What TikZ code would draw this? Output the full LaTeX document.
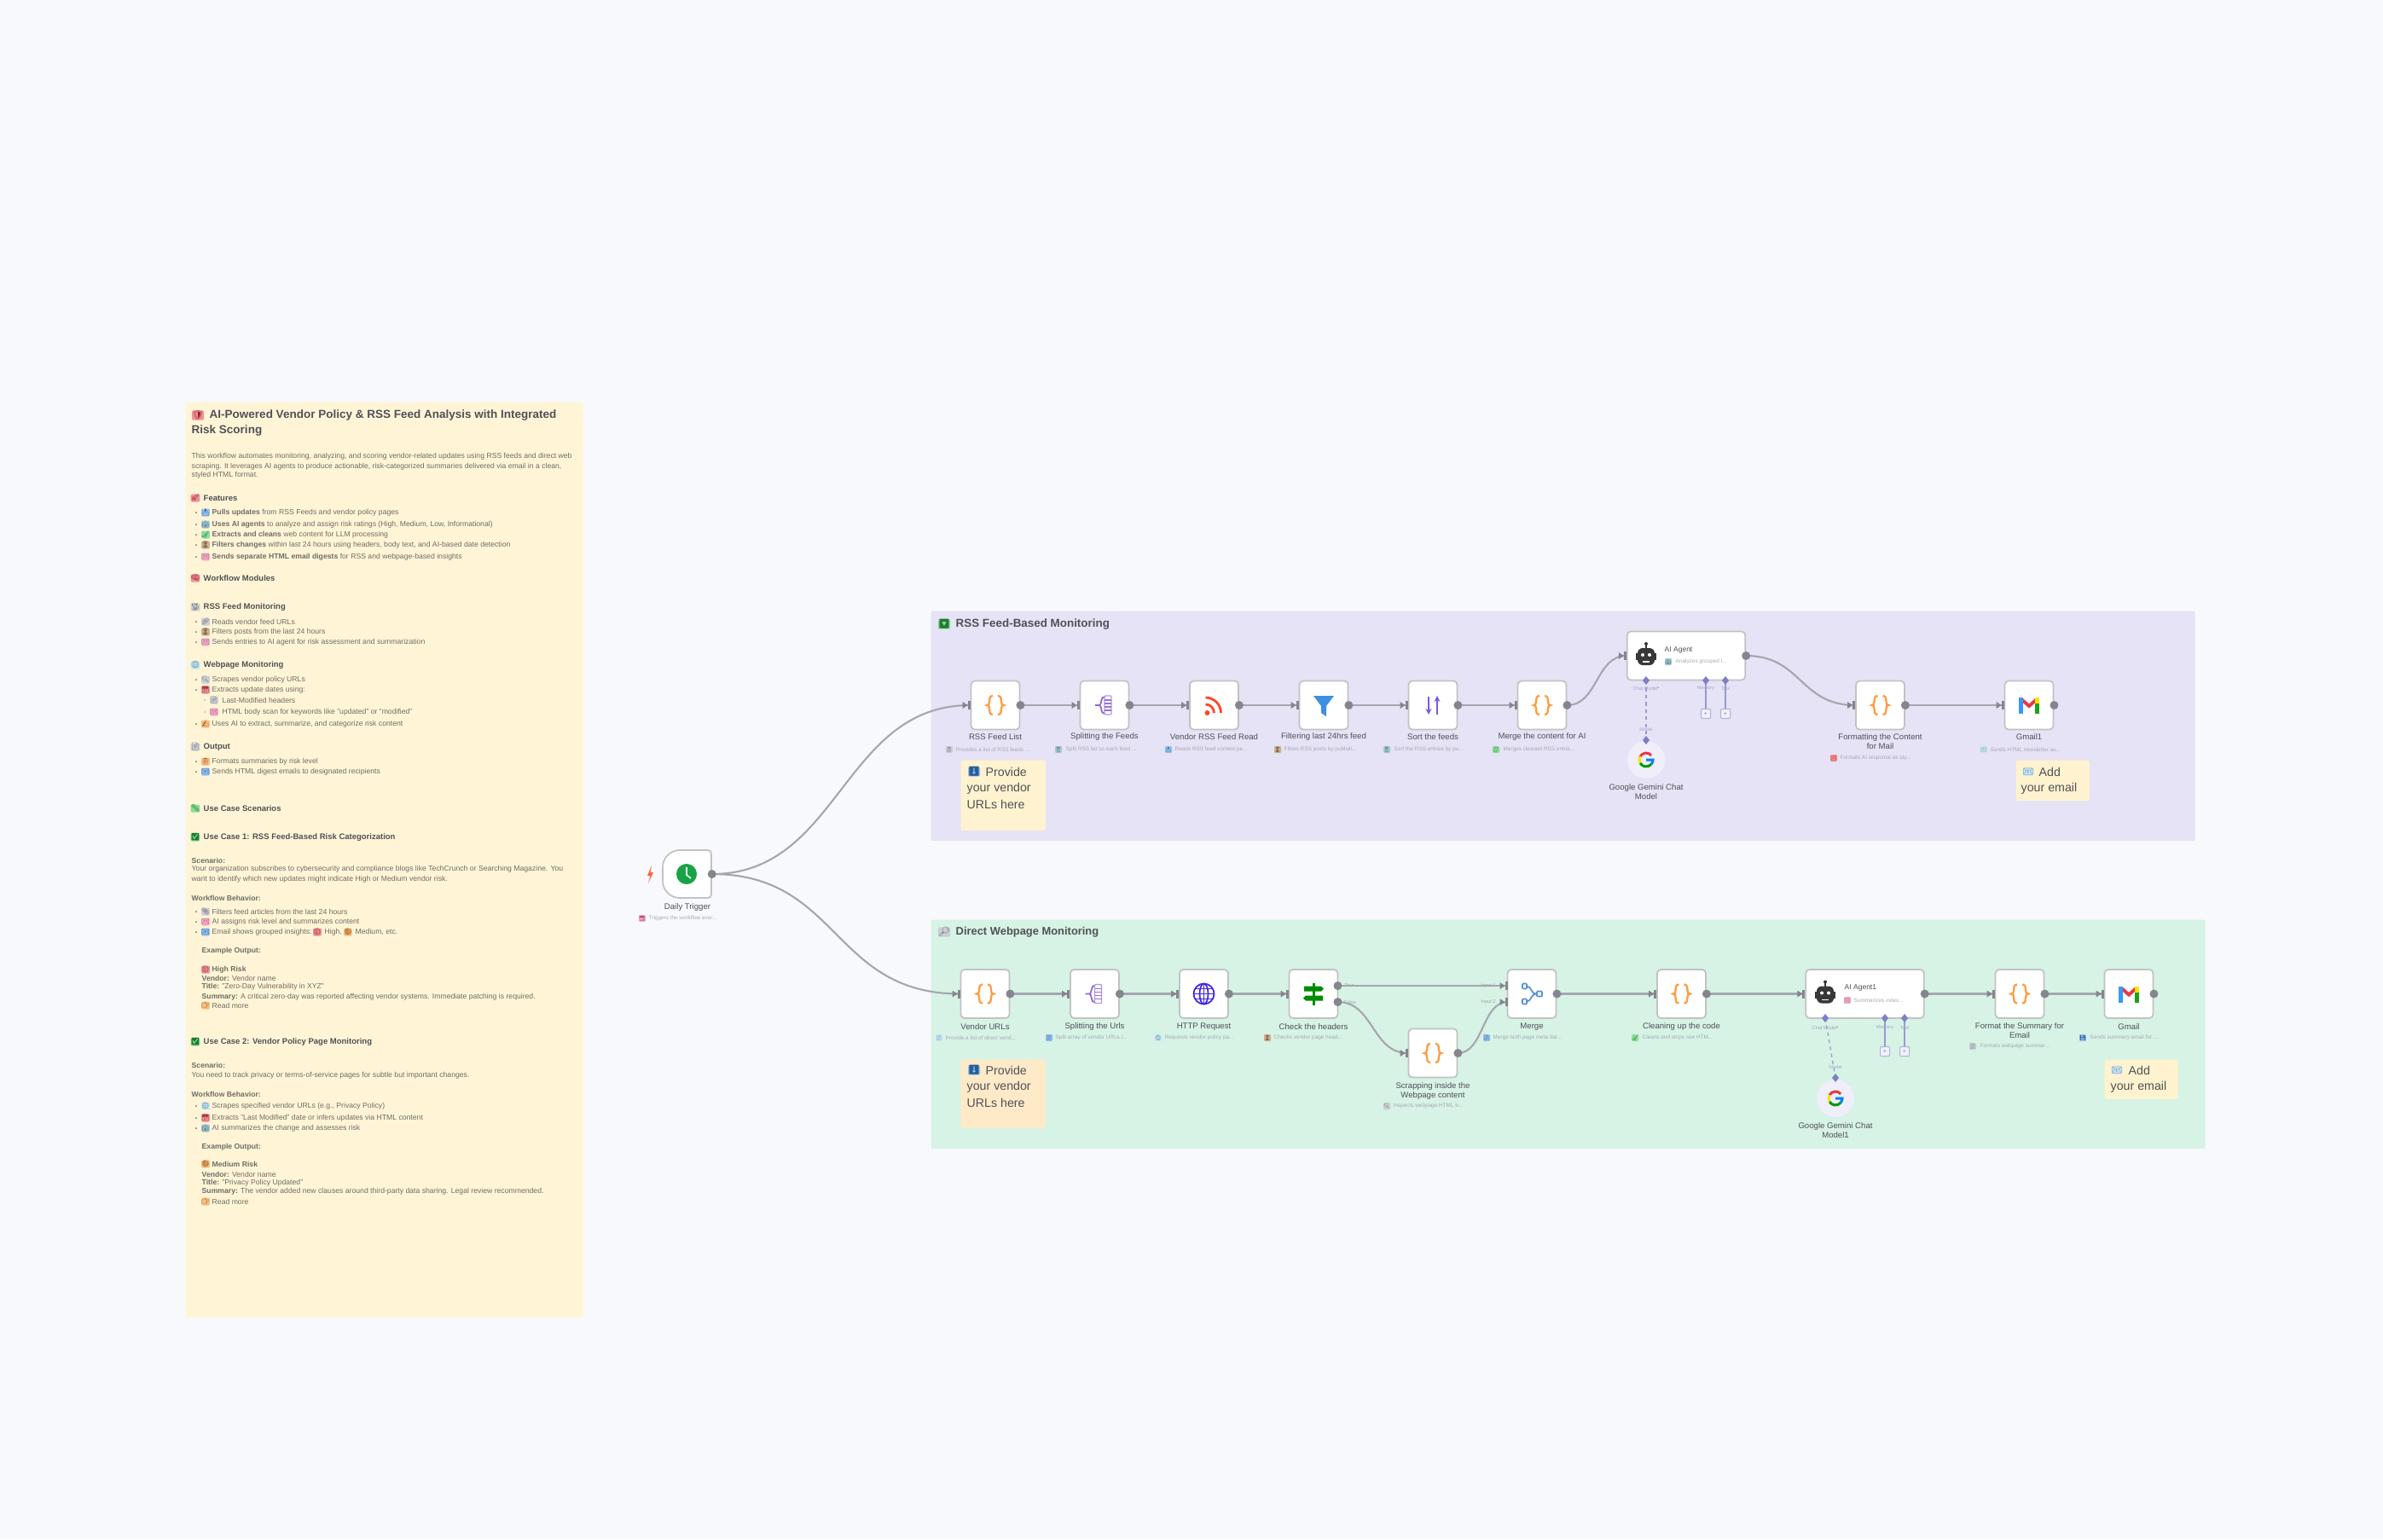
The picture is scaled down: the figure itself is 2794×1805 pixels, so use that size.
\documentclass[tikz,border=0pt]{standalone}
\usepackage{fontspec}
\usetikzlibrary{arrows.meta,shapes.geometric,calc}
\setmainfont{Liberation Sans}
\newfontfamily\emojifont{Noto Emoji}
\definecolor{bgc}{HTML}{F8F9FC}
\definecolor{sidec}{HTML}{FFF5D6}
\definecolor{gonec}{HTML}{E5E3F5}
\definecolor{gtwoc}{HTML}{D6F3E5}
\definecolor{notec}{HTML}{FFF3CF}
\definecolor{edgec}{HTML}{A6A6B0}
\definecolor{handc}{HTML}{85858E}
\definecolor{portc}{HTML}{7F7FC6}
\definecolor{dtxt}{HTML}{505058}
\definecolor{btxt}{HTML}{6E6C66}
\definecolor{stxt}{HTML}{A9A9B6}
\definecolor{codec}{HTML}{FF9C40}
\definecolor{eBlue}{HTML}{3F8FE0}
\definecolor{eRed}{HTML}{E53945}
\definecolor{eOrange}{HTML}{F08A1D}
\definecolor{eGreen}{HTML}{2FBF4A}
\definecolor{ePink}{HTML}{EE6FA0}
\definecolor{eGray}{HTML}{A0A6B0}
\definecolor{eBrown}{HTML}{A0703A}
\definecolor{eSky}{HTML}{9AD3EE}
\definecolor{eTeal}{HTML}{5E9AB0}
\newcommand\pxf[2]{\fontsize{\fpeval{#1*0.2845}}{\fpeval{#2*0.2845}}\selectfont}
\newcount\nid
\newcommand\nnew{\global\advance\nid by 1 }
\tikzset{
  x=0.01cm,y=-0.01cm,
  wbox/.style={draw=#1,line width=.5pt,fill=white,rounded corners=.45mm,minimum width=.57cm,minimum height=.57cm,inner sep=0pt},
  wbox/.default={black!24},
  agentbox/.style={wbox,minimum width=1.385cm},
  plusbox/.style={draw=portc!60,line width=.3pt,rounded corners=.1mm,minimum width=.11cm,minimum height=.11cm,inner sep=0pt,fill=gonec!50!white,text=portc,font=\pxf{7}{7}},
  note/.style={fill=notec,rounded corners=.2mm,inner sep=0pt,anchor=north west},
  conn/.style={draw=edgec,line width=.6pt},
  sublink/.style={draw=portc!80,line width=.35pt},
  subdash/.style={sublink,dash pattern=on 1.2pt off 1.2pt},
  wlabel/.style={text=dtxt,font=\pxf{9.6}{11},align=center,inner sep=0pt},
  wsub/.style={text=stxt,font=\pxf{6.4}{8},inner sep=0pt,anchor=west},
  tiny/.style={text=portc!70,font=\pxf{5.6}{7},inner sep=0pt},
  emobox/.style={rounded corners=.12mm,inner sep=0pt,fill=#1!55,text=#1!65!black,minimum size=.09cm},
  side/.style={text=btxt,font=\pxf{8.65}{10},inner sep=0pt,anchor=west},
  sidehd/.style={text=dtxt,font=\bfseries\pxf{9.5}{11},inner sep=0pt,anchor=west},
  notetxt/.style={text=dtxt,font=\pxf{14.2}{19},inner sep=0pt,anchor=west},
  codeicon/.pic={
    \draw[codec,line width=.65pt] (-3,-11) .. controls (-7,-11) and (-7,-7) .. (-7,-4) .. controls (-7,-1) and (-8,0) .. (-10,0) .. controls (-8,0) and (-7,1) .. (-7,4) .. controls (-7,7) and (-7,11) .. (-3,11);
    \draw[codec,line width=.65pt] (3,-11) .. controls (7,-11) and (7,-7) .. (7,-4) .. controls (7,-1) and (8,0) .. (10,0) .. controls (8,0) and (7,1) .. (7,4) .. controls (7,7) and (7,11) .. (3,11);
  },
  spliticon/.pic={
    \draw[violet!55!blue!60,line width=.5pt] (-11,0)--(-6,0) (0,-10) .. controls (-5,-10) and (-3,0) .. (-6,0) .. controls (-3,0) and (-5,10) .. (0,10);
    \draw[violet!45!blue!40,line width=.4pt,rounded corners=.1mm] (0,-11) rectangle (8,11);
    \draw[violet!55!blue!55,line width=.45pt] (0,-6)--(8,-6) (0,-2)--(8,-2) (0,2)--(8,2) (0,6)--(8,6);
  },
  rssicon/.pic={
    \fill[red!70!orange!85] (-8,9) circle (3);
    \draw[red!70!orange!85,line width=.8pt] (-10,-1) arc (270:360:10);
    \draw[red!70!orange!85,line width=.8pt] (-10,-9) arc (270:360:18);
  },
  filtericon/.pic={
    \fill[eBlue] (-12,-11)--(12,-11)--(3,1)--(3,13)--(-3,9)--(-3,1)--cycle;
  },
  sorticon/.pic={
    \draw[-{Stealth[length=.07cm,width=.07cm]},blue!55!violet!65,line width=.55pt] (-5,-10)--(-5,11);
    \draw[-{Stealth[length=.07cm,width=.07cm]},blue!55!violet!65,line width=.55pt] (5,11)--(5,-11);
  },
  globeicon/.pic={
    \draw[blue!75!violet!85,line width=.5pt] (0,0) circle (12);
    \draw[blue!75!violet!85,line width=.5pt] (0,0) ellipse (5 and 12);
    \draw[blue!75!violet!85,line width=.5pt] (-12,0)--(12,0) (-10.5,-6)--(10.5,-6) (-10.5,6)--(10.5,6) (0,-12)--(0,12);
  },
  switchicon/.pic={
    \fill[green!55!black] (-1.5,-13) rectangle (1.5,13);
    \fill[green!55!black] (-11,-9)--(9,-9)--(12,-6)--(9,-3)--(-11,-3)--cycle;
    \fill[green!55!black] (11,2)--(-9,2)--(-12,5)--(-9,8)--(11,8)--cycle;
  },
  mergeicon/.pic={
    \draw[cyan!55!blue!70,line width=.5pt,rounded corners=.1mm] (-11,-12) rectangle (-6,-6) (-11,6) rectangle (-6,12) (6,-3) rectangle (12,3);
    \draw[cyan!55!blue!70,line width=.5pt] (-6,-9) .. controls (0,-9) and (-2,0) .. (6,0) (-6,9) .. controls (0,9) and (-2,0) .. (6,0);
  },
  roboticon/.pic={
    \fill[black!78] (-1,-14) rectangle (1,-9);
    \fill[black!78] (0,-14) circle (2);
    \fill[black!78,rounded corners=.06cm] (-10,-9) rectangle (10,11);
    \fill[black!78] (-12,-3) rectangle (12,5);
    \fill[white] (-4,-1) circle (2) (4,-1) circle (2);
    \fill[white] (-4,6) rectangle (4,7.5);
  },
  gmailicon/.pic={
    \draw[eRed,line width=1.1pt] (-9,-7)--(0,1)--(9,-7);
    \fill[blue!50!cyan!80] (-12,-9) rectangle (-7,10);
    \fill[green!60!black!90] (7,-2) rectangle (12,10);
    \fill[yellow!85!orange] (7,-9) rectangle (12,-2);
  },
  gemini/.pic={
    \draw[eRed,line width=.85pt] (205:8) arc (205:320:8);
    \draw[yellow!85!orange,line width=.85pt] (150:8) arc (150:210:8);
    \draw[green!60!black,line width=.85pt] (40:8) arc (40:150:8);
    \draw[blue!50!cyan,line width=.85pt] (0,0)--(8,0) arc (0:40:8);
  },
}
\newcommand\inh[1]{\fill[handc] ($(#1)+(-3,-5)$) rectangle ($(#1)+(0,5)$); \fill[handc] ($(#1)+(-9,-4)$)--($(#1)+(-3,0)$)--($(#1)+(-9,4)$)--cycle;}
\newcommand\outh[1]{\fill[handc] (#1) circle (5);}
\newcommand\diam[1]{\fill[portc] ($(#1)+(0,-5)$)--($(#1)+(4,0)$)--($(#1)+(0,5)$)--($(#1)+(-4,0)$)--cycle;}
\newcommand\wnode[4][]{\node[wbox,#1] (#2) at (#3,#4) {};}
\newcommand\lbl[3]{\nnew\node[wlabel] (l\the\nid) at (#1,#2) {#3};}
\newcommand\sublbl[4]{\nnew\node[emobox=#3,minimum size=.08cm,font=\emojifont\pxf{6}{7}] (e\the\nid) at (#1,#2) {#4};}
\newcommand\subt[3]{\nnew\node[wsub] (s\the\nid) at (#1,#2) {#3};}
\newcommand\emo[5][7.5]{\nnew\node[emobox=#4,font=\emojifont\pxf{#1}{#1}] (e\the\nid) at (#2,#3) {#5};}
\newcommand\head[4]{\emo[8.5]{229}{#1}{#2}{#3}\nnew\node[sidehd] (h\the\nid) at (238,#1) {#4};}
\newcommand\bul[4]{\fill[btxt] (230,#1) circle (1);\emo{241}{#1}{#2}{#3}\nnew\node[side] (b\the\nid) at (248,#1) {#4};}
\newcommand\sbul[4]{\fill[btxt!60] (240,#1) circle (.8);\emo{251}{#1}{#2}{#3}\nnew\node[side] (b\the\nid) at (260,#1) {#4};}
\newcommand\plain[3]{\nnew\node[side] (p\the\nid) at (#1,#2) {#3};}
\begin{document}
\begin{tikzpicture}
\path[use as bounding box,fill=bgc] (0,0) rectangle (2794,1805);
% ---------- sidebar ----------
\node[fill=sidec,rounded corners=.1mm,minimum width=4.66cm,minimum height=10.73cm,inner sep=0pt,anchor=north west] (sidebar) at (217,471) {};
\emo[11]{232}{487}{eRed}{🛡}
\node[text=dtxt,font=\bfseries\pxf{13.5}{18},inner sep=0pt,anchor=west] (title1) at (245,487) {AI-Powered Vendor Policy \& RSS Feed Analysis with Integrated};
\node[text=dtxt,font=\bfseries\pxf{13.5}{18},inner sep=0pt,anchor=west] (title2) at (224,505) {Risk Scoring};
\plain{224}{535}{This workflow automates monitoring, analyzing, and scoring vendor-related updates using RSS feeds and direct web}
\plain{224}{547}{scraping. It leverages AI agents to produce actionable, risk-categorized summaries delivered via email in a clean,}
\plain{224}{557}{styled HTML format.}
\head{584}{eRed}{🚀}{Features}
\bul{601}{eBlue}{📥}{\textbf{Pulls updates} from RSS Feeds and vendor policy pages}
\bul{615}{eTeal}{🤖}{\textbf{Uses AI agents} to analyze and assign risk ratings (High, Medium, Low, Informational)}
\bul{627}{eGreen}{🧹}{\textbf{Extracts and cleans} web content for LLM processing}
\bul{639}{eBrown}{⏳}{\textbf{Filters changes} within last 24 hours using headers, body text, and AI-based date detection}
\bul{653}{ePink}{💌}{\textbf{Sends separate HTML email digests} for RSS and webpage-based insights}
\head{678}{eRed}{🧠}{Workflow Modules}
\head{712}{eGray}{📡}{RSS Feed Monitoring}
\bul{729}{eGray}{🔗}{Reads vendor feed URLs}
\bul{741}{eBrown}{⏳}{Filters posts from the last 24 hours}
\bul{753}{ePink}{💌}{Sends entries to AI agent for risk assessment and summarization}
\head{780}{eSky}{🌐}{Webpage Monitoring}
\bul{797}{eGray}{🔍}{Scrapes vendor policy URLs}
\bul{809}{eRed}{📅}{Extracts update dates using:}
\sbul{821}{eGray}{📄}{Last-Modified headers}
\sbul{835}{ePink}{💌}{HTML body scan for keywords like "updated" or "modified"}
\bul{849}{eOrange}{✍}{Uses AI to extract, summarize, and categorize risk content}
\head{876}{eGray}{📄}{Output}
\bul{893}{eOrange}{📋}{Formats summaries by risk level}
\bul{905}{eBlue}{📧}{Sends HTML digest emails to designated recipients}
\head{948}{eGreen}{✏}{Use Case Scenarios}
\head{982}{eGreen}{✅}{Use Case 1: RSS Feed-Based Risk Categorization}
\plain{224}{1009}{\textbf{Scenario:}}
\plain{224}{1019}{Your organization subscribes to cybersecurity and compliance blogs like TechCrunch or Searching Magazine. You}
\plain{224}{1031}{want to identify which new updates might indicate High or Medium vendor risk.}
\plain{224}{1053}{\textbf{Workflow Behavior:}}
\bul{1069}{eGray}{📎}{Filters feed articles from the last 24 hours}
\bul{1081}{ePink}{💌}{AI assigns risk level and summarizes content}
\bul{1093}{eBlue}{📧}{Email shows grouped insights:}
\emo{372}{1093}{eRed}{🔴}
\plain{380}{1093}{High,}
\emo{408}{1093}{eOrange}{🟠}
\plain{416}{1093}{Medium, etc.}
\plain{236}{1115}{\textbf{Example Output:}}
\emo{241}{1137}{eRed}{🔴}
\plain{248}{1137}{\textbf{High Risk}}
\plain{236}{1147}{\textbf{Vendor:} Vendor name}
\plain{236}{1157}{\textbf{Title:} "Zero-Day Vulnerability in XYZ"}
\plain{236}{1169}{\textbf{Summary:} A critical zero-day was reported affecting vendor systems. Immediate patching is required.}
\emo{241}{1179}{eOrange}{👉}
\plain{248}{1179}{Read more}
\head{1222}{eGreen}{✅}{Use Case 2: Vendor Policy Page Monitoring}
\plain{224}{1249}{\textbf{Scenario:}}
\plain{224}{1261}{You need to track privacy or terms-of-service pages for subtle but important changes.}
\plain{224}{1283}{\textbf{Workflow Behavior:}}
\bul{1297}{eSky}{🌐}{Scrapes specified vendor URLs (e.g., Privacy Policy)}
\bul{1311}{eRed}{📅}{Extracts "Last Modified" date or infers updates via HTML content}
\bul{1323}{eTeal}{🤖}{AI summarizes the change and assesses risk}
\plain{236}{1345}{\textbf{Example Output:}}
\emo{241}{1365}{eOrange}{🟠}
\plain{248}{1365}{\textbf{Medium Risk}}
\plain{236}{1377}{\textbf{Vendor:} Vendor name}
\plain{236}{1387}{\textbf{Title:} "Privacy Policy Updated"}
\plain{236}{1397}{\textbf{Summary:} The vendor added new clauses around third-party data sharing. Legal review recommended.}
\emo{241}{1409}{eOrange}{👉}
\plain{248}{1409}{Read more}
% ---------- groups ----------
\node[fill=gonec,rounded corners=.1mm,minimum width=14.81cm,minimum height=2.69cm,inner sep=0pt,anchor=north west] (groupone) at (1091,716) {};
\node[fill=gtwoc,rounded corners=.1mm,minimum width=14.93cm,minimum height=2.68cm,inner sep=0pt,anchor=north west] (grouptwo) at (1091,1078) {};
\emo[11]{1107}{732}{eGreen}{🔽}
\node[text=dtxt,font=\bfseries\pxf{13.4}{14},inner sep=0pt,anchor=west] (gonet) at (1120,732) {RSS Feed-Based Monitoring};
\emo[11]{1107}{1093}{eGray}{🔎}
\node[text=dtxt,font=\bfseries\pxf{12.9}{14},inner sep=0pt,anchor=west] (gtwot) at (1120,1093) {Direct Webpage Monitoring};
% ---------- notes ----------
\node[note,minimum width=.99cm,minimum height=.82cm] (noteA) at (1126,891) {};
\node[note,minimum width=.86cm,minimum height=.47cm] (noteB) at (2363,891) {};
\node[note,fill=notec!85!orange!70,minimum width=.99cm,minimum height=.80cm] (noteC) at (1126,1242) {};
\node[note,minimum width=.86cm,minimum height=.46cm] (noteD) at (2467,1242) {};
\emo[11]{1142}{905}{eBlue}{⬇}\node[notetxt] (na1) at (1155,905) {Provide};
\node[notetxt] (na2) at (1133,925) {your vendor};
\node[notetxt] (na3) at (1133,943) {URLs here};
\emo[10]{2378}{905}{eSky}{📧}\node[notetxt] (nb1) at (2390,905) {Add};
\node[notetxt] (nb2) at (2369,925) {your email};
\emo[11]{1142}{1255}{eBlue}{⬇}\node[notetxt] (nc1) at (1155,1255) {Provide};
\node[notetxt] (nc2) at (1133,1275) {your vendor};
\node[notetxt] (nc3) at (1133,1293) {URLs here};
\emo[10]{2482}{1255}{eSky}{📧}\node[notetxt] (nd1) at (2495,1255) {Add};
\node[notetxt] (nd2) at (2474,1275) {your email};
% ---------- trigger ----------
\node[minimum width=.57cm,minimum height=.56cm,inner sep=0pt] (trigger) at (805.5,1025) {};
\filldraw[fill=white,draw=black!24,line width=.5pt] (797,997) -- (830,997) arc (270:360:4) -- (834,1049) arc (0:90:4) -- (797,1053) arc (90:180:20) -- (777,1017) arc (180:270:20) -- cycle;
\fill[green!50!teal!80!black!90] (805,1025) circle (12);
\draw[white,line width=.45pt] (805,1017) -- (805,1026) -- (810,1030);
\fill[red!65!orange!75] (764,1015)--(759,1027)--(762.5,1027)--(760,1036)--(766,1023)--(762.5,1023)--cycle;
\lbl{806}{1064}{Daily Trigger}
\sublbl{753}{1077}{ePink}{📆}
\subt{760}{1077}{Triggers the workflow ever...}
% ---------- group one nodes ----------
\wnode{rsslist}{1167}{827}
\wnode{splitfeeds}{1295}{827}
\wnode{rssread}{1423.5}{827}
\wnode{filterfeed}{1552}{827}
\wnode{sortfeeds}{1680}{827}
\wnode{mergeai}{1808}{827}
\node[agentbox] (agent) at (1977,769) {};
\wnode{fmtmail}{2204.5}{827}
\wnode{gmailone}{2379}{827}
\node[circle,fill=gonec!60!white,minimum size=.44cm,inner sep=0pt] (gem) at (1930,891) {};
\node[plusbox] (plusA) at (2000,837) {+};
\node[plusbox] (plusB) at (2023,837) {+};
\coordinate (pchat) at (1930,798);\coordinate (pmem) at (2000,798);\coordinate (ptool) at (2023,798);\coordinate (pgem) at (1930,868);
\path (rsslist) pic {codeicon} (splitfeeds) pic {spliticon} (rssread) pic {rssicon} (filterfeed) pic {filtericon} (sortfeeds) pic {sorticon} (mergeai) pic {codeicon} (fmtmail) pic {codeicon} (gmailone) pic {gmailicon} (gem) pic {gemini};
\path (1930,769) pic {roboticon};
% ---------- group two nodes ----------
\wnode{vurls}{1155}{1165.5}
\wnode{spliturls}{1283.5}{1165.5}
\wnode{http}{1411.5}{1165.5}
\wnode{check}{1540}{1165.5}
\wnode{merge}{1796}{1165.5}
\wnode{scrape}{1680}{1235}
\wnode{clean}{1971.5}{1165.5}
\node[agentbox] (agentt) at (2186.5,1165.5) {};
\wnode{fmtsum}{2368}{1165.5}
\wnode{gmailt}{2496}{1165.5}
\node[circle,fill=gonec!60!white,minimum size=.44cm,inner sep=0pt] (gemt) at (2152,1288) {};
\node[plusbox] (plusC) at (2210,1233) {+};
\node[plusbox] (plusD) at (2233,1233) {+};
\coordinate (qchat) at (2140,1194);\coordinate (qmem) at (2210,1194);\coordinate (qtool) at (2233,1194);\coordinate (qgem) at (2152,1264);
\coordinate (swtrue) at (1568.5,1156);\coordinate (swfalse) at (1568.5,1175);
\coordinate (mgone) at (1767.5,1156);\coordinate (mgtwo) at (1767.5,1175);
\path (vurls) pic {codeicon} (spliturls) pic {spliticon} (http) pic {globeicon} (check) pic {switchicon} (merge) pic {mergeicon} (scrape) pic {codeicon} (clean) pic {codeicon} (fmtsum) pic {codeicon} (gmailt) pic {gmailicon} (gemt) pic {gemini};
\path (2140,1165.5) pic {roboticon};
% ---------- connectors ----------
\draw[conn] (trigger.east) .. controls +(150,0) and +(-150,0) .. (rsslist.west);
\draw[conn] (trigger.east) .. controls +(150,0) and +(-150,0) .. (vurls.west);
\draw[conn] (rsslist.east) -- (splitfeeds.west);
\draw[conn] (splitfeeds.east) -- (rssread.west);
\draw[conn] (rssread.east) -- (filterfeed.west);
\draw[conn] (filterfeed.east) -- (sortfeeds.west);
\draw[conn] (sortfeeds.east) -- (mergeai.west);
\draw[conn] (mergeai.east) .. controls +(36,0) and +(-36,0) .. (agent.west);
\draw[conn] (agent.east) .. controls +(65,0) and +(-65,0) .. (fmtmail.west);
\draw[conn] (fmtmail.east) -- (gmailone.west);
\draw[subdash] (pchat) -- (pgem);
\draw[sublink] (pmem) -- (plusA.north);
\draw[sublink] (ptool) -- (plusB.north);
\draw[conn] (vurls.east) -- (spliturls.west);
\draw[conn] (spliturls.east) -- (http.west);
\draw[conn] (http.east) -- (check.west);
\draw[conn] (swtrue) -- (mgone);
\draw[conn] (swfalse) .. controls +(42,0) and +(-42,0) .. (scrape.west);
\draw[conn] (scrape.east) .. controls +(30,0) and +(-30,0) .. (mgtwo);
\draw[conn] (merge.east) -- (clean.west);
\draw[conn] (clean.east) -- (agentt.west);
\draw[conn] (agentt.east) -- (fmtsum.west);
\draw[conn] (fmtsum.east) -- (gmailt.west);
\draw[subdash] (qchat) -- (qgem);
\draw[sublink] (qmem) -- (plusC.north);
\draw[sublink] (qtool) -- (plusD.north);
% ---------- handles ----------
\outh{trigger.east}
\inh{rsslist.west}\outh{rsslist.east}\inh{splitfeeds.west}\outh{splitfeeds.east}\inh{rssread.west}\outh{rssread.east}\inh{filterfeed.west}\outh{filterfeed.east}\inh{sortfeeds.west}\outh{sortfeeds.east}\inh{mergeai.west}\outh{mergeai.east}\inh{agent.west}\outh{agent.east}\inh{fmtmail.west}\outh{fmtmail.east}\inh{gmailone.west}\outh{gmailone.east}
\inh{vurls.west}\outh{vurls.east}\inh{spliturls.west}\outh{spliturls.east}\inh{http.west}\outh{http.east}\inh{check.west}\outh{swtrue}\outh{swfalse}\inh{mgone}\inh{mgtwo}\outh{merge.east}\inh{scrape.west}\outh{scrape.east}\inh{clean.west}\outh{clean.east}\inh{agentt.west}\outh{agentt.east}\inh{fmtsum.west}\outh{fmtsum.east}\inh{gmailt.west}\outh{gmailt.east}
\diam{pchat}\diam{pmem}\diam{ptool}\diam{pgem}\diam{qchat}\diam{qmem}\diam{qtool}\diam{qgem}
% ---------- small port labels ----------
\node[tiny] (t1) at (1930,807) {Chat Model\textcolor{red!70}{*}};
\node[tiny] (t2) at (2000,807) {Memory};
\node[tiny] (t3) at (2023,807) {Tool};
\node[tiny] (t4) at (1930,855) {Model};
\node[tiny] (t5) at (2140,1205) {Chat Model\textcolor{red!70}{*}};
\node[tiny] (t6) at (2210,1205) {Memory};
\node[tiny] (t7) at (2233,1205) {Tool};
\node[tiny] (t8) at (2152,1251) {Model};
\node[tiny,text=black!35] (t9) at (1582,1156) {True};
\node[tiny,text=black!35] (t10) at (1583,1175) {False};
\node[tiny,text=black!35] (t11) at (1745,1156) {Input 1};
\node[tiny,text=black!35] (t12) at (1745,1175) {Input 2};
% ---------- labels, group one ----------
\lbl{1167}{864}{RSS Feed List}
\lbl{1295}{864}{Splitting the Feeds}
\lbl{1423.5}{864}{Vendor RSS Feed Read}
\lbl{1552}{864}{Filtering last 24hrs feed}
\lbl{1680}{864}{Sort the feeds}
\lbl{1808}{864}{Merge the content for AI}
\lbl{2204.5}{870}{Formatting the Content\\for Mail}
\lbl{2379}{864}{Gmail1}
\lbl{1930}{929}{Google Gemini Chat\\Model}
\sublbl{1113}{879}{eGray}{📋}\subt{1120}{879}{Provides a list of RSS feeds ...}
\sublbl{1241}{879}{eTeal}{📱}\subt{1249}{879}{Split RSS list so each feed ...}
\sublbl{1370}{879}{eBlue}{📥}\subt{1377}{879}{Reads RSS feed content pe...}
\sublbl{1498}{879}{eBrown}{⏳}\subt{1505}{879}{Filters RSS posts by publish...}
\sublbl{1626}{879}{eTeal}{📱}\subt{1634}{879}{Sort the RSS entries by pu...}
\sublbl{1754}{879}{eGreen}{🧩}\subt{1762}{879}{Merges cleaned RSS entrie...}
\sublbl{2150}{889}{eRed}{💌}\subt{2157}{889}{Formats AI response as sty...}
\sublbl{2326}{879}{eSky}{📧}\subt{2333}{879}{Sends HTML newsletter au...}
\node[text=dtxt,font=\pxf{8.5}{9},inner sep=0pt,anchor=west] (atitle) at (1951,762) {AI Agent};
\sublbl{1956}{776}{eTeal}{🤖}\subt{1964}{776}{Analyzes grouped I...}
% ---------- labels, group two ----------
\lbl{1155}{1204}{Vendor URLs}
\lbl{1283.5}{1204}{Splitting the Urls}
\lbl{1411.5}{1204}{HTTP Request}
\lbl{1540}{1204}{Check the headers}
\lbl{1796}{1204}{Merge}
\lbl{1971.5}{1204}{Cleaning up the code}
\lbl{2368}{1209}{Format the Summary for\\Email}
\lbl{2496}{1204}{Gmail}
\lbl{1680}{1279}{Scrapping inside the\\Webpage content}
\lbl{2152}{1326}{Google Gemini Chat\\Model1}
\sublbl{1101}{1217}{eSky}{📄}\subt{1108}{1217}{Provide a list of direct vend...}
\sublbl{1230}{1217}{eBlue}{📄}\subt{1237}{1217}{Split array of vendor URLs i...}
\sublbl{1358}{1217}{eSky}{🌐}\subt{1365}{1217}{Requests vendor policy pa...}
\sublbl{1486}{1217}{eBrown}{⏳}\subt{1493}{1217}{Checks vendor page head...}
\sublbl{1743}{1217}{eBlue}{📄}\subt{1750}{1217}{Merge both page meta dat...}
\sublbl{1917}{1217}{eGreen}{🧹}\subt{1925}{1217}{Cleans and strips raw HTM...}
\sublbl{2313}{1227}{eGray}{📄}\subt{2321}{1227}{Formats webpage summar...}
\sublbl{2442}{1217}{eBlue}{💾}\subt{2450}{1217}{Sends summary email for ...}
\sublbl{1626}{1297}{eGray}{🔍}\subt{1633}{1297}{Inspects webpage HTML b...}
\node[text=dtxt,font=\pxf{8.5}{9},inner sep=0pt,anchor=west] (atitlet) at (2162,1158) {AI Agent1};
\sublbl{2166}{1173}{ePink}{💌}\subt{2173}{1173}{Summarizes index...}
\end{tikzpicture}
\end{document}
